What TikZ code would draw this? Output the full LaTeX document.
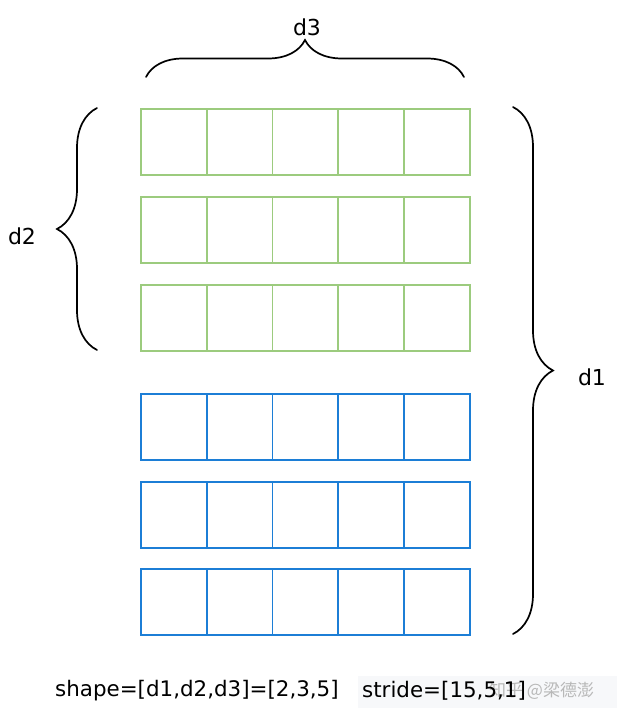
\documentclass[tikz,border=0pt]{standalone}
\usepackage{fontspec}
\setmainfont{DejaVu Sans}
\newfontfamily\cjkfont{Noto Sans CJK SC}
\usetikzlibrary{decorations.pathreplacing}
\definecolor{gcol}{HTML}{9CCB7E}
\definecolor{bcol}{HTML}{1C7ED6}
\definecolor{wmbg}{HTML}{F7F8FA}
\definecolor{wmtx}{HTML}{B8B8B8}
\begin{document}
\begin{tikzpicture}[x=1pt,y=-1pt,
  cellbox/.style={draw, line width=1.8pt, minimum width=65.8pt, minimum height=66pt, inner sep=0pt, anchor=north west},
  gcell/.style={cellbox, draw=gcol},
  bcell/.style={cellbox, draw=bcol},
  brc/.style={decorate, line width=1.7pt, line cap=round, black},
  lbl/.style={font=\fontsize{22}{26}\selectfont, inner sep=0pt},
  caption/.style={font=\fontsize{21.4}{25}\selectfont, inner sep=0pt, anchor=west}
]
\useasboundingbox (0,0) rectangle (617,720);
% watermark background and text (behind the caption)
\fill[wmbg] (358,676) rectangle (617,708);
\node[font=\cjkfont\fontsize{17}{20}\selectfont, text=wmtx, inner sep=0pt, anchor=west] (wm) at (489,691) {知乎 @梁德澎};
% green rows
\foreach \r/\yy in {1/108,2/196,3/284}{
  \foreach \c in {0,...,4}{
    \node[gcell] (g\r\c) at ({140+65.8*\c},\yy) {};
  }
}
% blue rows
\foreach \r/\yy in {1/393,2/481,3/568}{
  \foreach \c in {0,...,4}{
    \node[bcell] (b\r\c) at ({140+65.8*\c},\yy) {};
  }
}
% top brace
\coordinate (t1) at (146,77);
\coordinate (t2) at (464,77);
\draw[brc, decoration={brace, amplitude=37pt}] (t1) -- (t2);
\node[lbl] (d3) at (307,27) {d3};
% left brace
\coordinate (l1) at (97,350);
\coordinate (l2) at (97,108);
\draw[brc, decoration={brace, amplitude=40pt}] (l1) -- (l2);
\node[lbl] (d2) at (22,236) {d2};
% right brace
\coordinate (r1) at (513,107);
\coordinate (r2) at (513,634);
\draw[brc, decoration={brace, amplitude=40pt}] (r1) -- (r2);
\node[lbl] (d1) at (592,377) {d1};
% caption
\node[caption] (cap1) at (55,691) {shape=[d1,d2,d3]=[2,3,5]};
\node[caption] (cap2) at (362,691) {stride=[15,5,1]};
\end{tikzpicture}
\end{document}
